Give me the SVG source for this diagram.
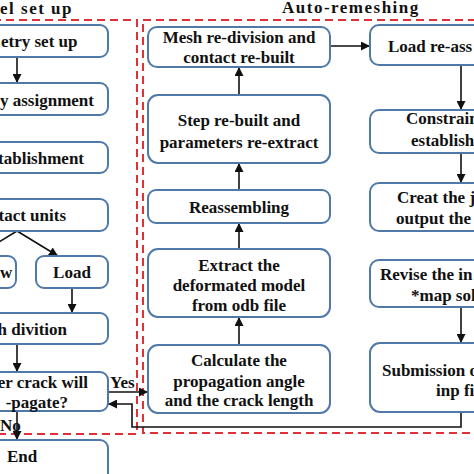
<svg xmlns="http://www.w3.org/2000/svg" width="474" height="474" viewBox="0 0 474 474">
<defs>
<style>
.box{fill:#ffffff;stroke:#4e79a9;stroke-width:2}
.dash{fill:none;stroke:#e0303a;stroke-width:2;stroke-dasharray:8,5}
.t{font-family:"Liberation Serif","Times New Roman",serif;font-weight:bold;font-size:17px;fill:#111}
.m{text-anchor:middle}
.e{text-anchor:end}
.title{font-family:"Liberation Serif","Times New Roman",serif;font-weight:bold;font-size:17px;fill:#111;letter-spacing:1.5px}
.c{fill:none;stroke:#111;stroke-width:1.6}
</style>
<marker id="ah" viewBox="0 0 10 10" refX="10" refY="5" markerWidth="9" markerHeight="9" markerUnits="userSpaceOnUse" orient="auto">
<path d="M0,0 L10,5 L0,10 z" fill="#111"/>
</marker>
</defs>
<rect width="474" height="474" fill="#ffffff"/>

<g id="frames">
<rect class="dash" x="-20" y="20" width="157" height="414"/>
<rect class="dash" x="143" y="20" width="360" height="413"/>
<text class="title" x="0" y="14">el set up</text>
<text class="title" x="282" y="13">Auto-remeshing</text>
</g>

<g id="connectors">
<line class="c" x1="17" y1="57" x2="17" y2="83" marker-end="url(#ah)"/>
<line class="c" x1="17" y1="231" x2="-24" y2="256"/>
<line class="c" x1="17" y1="231" x2="58" y2="256" marker-end="url(#ah)"/>
<line class="c" x1="72" y1="288" x2="72" y2="313" marker-end="url(#ah)"/>
<line class="c" x1="17" y1="344" x2="17" y2="372" marker-end="url(#ah)"/>
<line class="c" x1="17" y1="411" x2="17" y2="440" marker-end="url(#ah)"/>
<line class="c" x1="108" y1="392" x2="148" y2="392" marker-end="url(#ah)"/>
<polyline class="c" points="461,412 461,427 132,427 132,404 108,404" marker-end="url(#ah)"/>
<line class="c" x1="239" y1="345" x2="239" y2="317" marker-end="url(#ah)"/>
<line class="c" x1="239" y1="249" x2="239" y2="223" marker-end="url(#ah)"/>
<line class="c" x1="239" y1="190" x2="239" y2="163" marker-end="url(#ah)"/>
<line class="c" x1="239" y1="95" x2="239" y2="67" marker-end="url(#ah)"/>
<line class="c" x1="330" y1="46" x2="370" y2="46" marker-end="url(#ah)"/>
<line class="c" x1="461" y1="65" x2="461" y2="110" marker-end="url(#ah)"/>
<line class="c" x1="461" y1="153" x2="461" y2="183" marker-end="url(#ah)"/>
<line class="c" x1="461" y1="307" x2="461" y2="343" marker-end="url(#ah)"/>
<text class="t" x="110" y="388">Yes</text>
<text class="t" x="0" y="431">No</text>
</g>

<g id="geometry"><rect class="box" x="-74" y="25" width="182" height="32" rx="8"/><text class="t" x="1" y="47">etry set up</text></g>
<g id="property"><rect class="box" x="-74" y="83" width="182" height="32" rx="8"/><text class="t" x="0" y="106">y assignment</text></g>
<g id="establishment"><rect class="box" x="-74" y="142" width="182" height="31" rx="8"/><text class="t e" x="84" y="164">establishment</text></g>
<g id="contact"><rect class="box" x="-74" y="199" width="182" height="32" rx="8"/><text class="t e" x="66" y="221">tact units</text></g>
<g id="leftbranch"><rect class="box" x="-64" y="256" width="80" height="32" rx="8"/><text class="t" x="0" y="278">w</text></g>
<g id="load"><rect class="box" x="36" y="256" width="72" height="32" rx="8"/><text class="t m" x="72" y="278">Load</text></g>
<g id="mesh"><rect class="box" x="-74" y="313" width="182" height="31" rx="8"/><text class="t e" x="67" y="335">h divition</text></g>
<g id="decision"><rect class="box" x="-74" y="372" width="182" height="39" rx="8"/><text class="t e" x="88" y="388">er crack will</text><text class="t e" x="68" y="408">-pagate?</text></g>
<g id="end"><rect class="box" x="-74" y="440" width="182" height="44" rx="8"/><text class="t m" x="22" y="462">End</text></g>

<g id="remesh"><rect class="box" x="148" y="27" width="182" height="40" rx="9"/><text class="t m" x="239" y="43">Mesh re-division and</text><text class="t m" x="239" y="63">contact re-built</text></g>
<g id="step"><rect class="box" x="148" y="95" width="182" height="68" rx="10"/><text class="t m" x="239" y="126">Step re-built and</text><text class="t m" x="239" y="148">parameters re-extract</text></g>
<g id="reassembling"><rect class="box" x="148" y="190" width="182" height="33" rx="8"/><text class="t m" x="239" y="213">Reassembling</text></g>
<g id="extract"><rect class="box" x="148" y="249" width="182" height="68" rx="10"/><text class="t m" x="239" y="271">Extract the</text><text class="t m" x="239" y="291">deformated model</text><text class="t m" x="239" y="311">from odb file</text></g>
<g id="calculate"><rect class="box" x="148" y="345" width="182" height="68" rx="10"/><text class="t m" x="239" y="366">Calculate the</text><text class="t m" x="239" y="387">propagation angle</text><text class="t m" x="239" y="406">and the crack length</text></g>

<g id="loadreass"><rect class="box" x="370" y="25" width="182" height="40" rx="9"/><text class="t" x="388" y="52">Load re-ass</text></g>
<g id="constrain"><rect class="box" x="370" y="110" width="182" height="43" rx="9"/><text class="t" x="406" y="124">Constrain</text><text class="t" x="411" y="146">establish</text></g>
<g id="creat"><rect class="box" x="370" y="183" width="182" height="48" rx="9"/><text class="t" x="397" y="203">Creat the j</text><text class="t" x="396" y="224">output the</text></g>
<g id="revise"><rect class="box" x="370" y="260" width="182" height="47" rx="9"/><text class="t" x="380" y="280">Revise the in</text><text class="t" x="411" y="301">*map sol</text></g>
<g id="submission"><rect class="box" x="370" y="343" width="182" height="69" rx="10"/><text class="t" x="382" y="376">Submission o</text><text class="t" x="436" y="396">inp fi</text></g>
</svg>
